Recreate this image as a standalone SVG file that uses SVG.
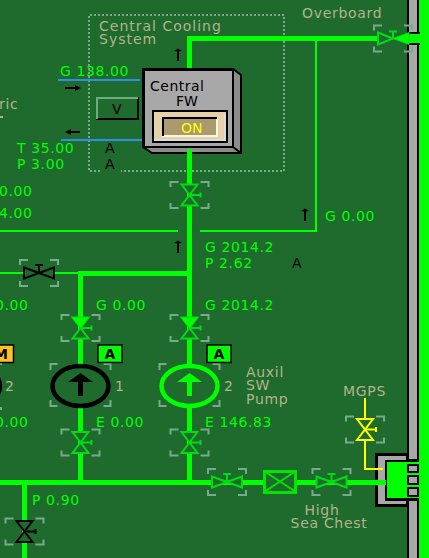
<svg xmlns="http://www.w3.org/2000/svg" width="429" height="558" viewBox="0 0 429 558">
<style>
text{font-family:"DejaVu Sans",sans-serif;font-size:14px}
.g{fill:#00ff00;letter-spacing:.6px}
.t{fill:#b4b48c;letter-spacing:.7px}
.k{fill:#000}
.p{stroke:#00ff00;fill:none}
.br{fill:none;stroke:#78aa8c;stroke-width:2}
.v{fill:#1e6b2d;stroke-width:2;stroke:#00dc14}
.s{fill:none;stroke-width:2;stroke:#00dc14}
.bk{fill:#1e6b2d;stroke-width:2;stroke:#000}
.bs{fill:none;stroke-width:2;stroke:#000}
.y{fill:#1e6b2d;stroke-width:2;stroke:#ffff00}
.ys{fill:none;stroke-width:2;stroke:#ffff00}
</style>
<defs>
<path id="brs" class="br" d="M-19,-8V-13H-11M11,-13H19V-8M-19,8V13H-11M11,13H19V8"/>
<path id="brp" class="br" d="M-30,-15V-21H-23M23,-21H30V-15M-30,15V21H-23M23,21H30V15"/>
<g id="vv"><use href="#brs"/><path class="v" d="M-8,-10.500H8L-8,10.500H8Z"/><path class="s" d="M0,0H11M11,-2.500V2.500"/></g>
<g id="vvf"><use href="#brs"/><path class="v" d="M-8,-10.500H8L-8,10.500H8Z"/><path d="M-8,-10.500H8L0,0Z" fill="#00ff00"/><path class="s" d="M0,0H11M11,-2.500V2.500"/></g>
<g id="vh"><use href="#brs"/><path class="v" d="M-15,-5.500V5.500L15,-5.500V5.500Z"/><path class="s" d="M0,0V-8M-4,-8H4"/></g>
<g id="badge"><rect x="-12" y="-9" width="24" height="17.500" fill="#00ff00" stroke="#000" stroke-width="1.500"/><text y="5" text-anchor="middle" class="k" font-weight="bold">A</text></g>
<path id="up" d="M-1,-6H1V6H-1ZM-4,-4L0,-6.500L4,-4L1,-3.500H-1Z" fill="#000"/>
</defs>
<rect width="429" height="558" fill="#1e6b2d"/>
<g id="hull">
<rect x="408" y="-3" width="10" height="463" fill="#a8a8a8" stroke="#000" stroke-width="2"/>
<rect x="408" y="500" width="10" height="62" fill="#a8a8a8" stroke="#000" stroke-width="2"/>
<rect x="419" y="0" width="10" height="558" fill="#00ff00"/>
<rect x="407" y="32" width="13" height="13" fill="#000"/>
<rect x="407" y="34" width="22" height="9" fill="#00ff00"/>
<rect x="376.500" y="454.500" width="31" height="51" fill="#a8a8a8" stroke="#000" stroke-width="3"/>
<rect x="385" y="460" width="34" height="41" fill="#000"/>
<rect x="387" y="462" width="42" height="36" fill="#00ff00"/>
<rect x="408" y="465" width="10" height="7" fill="#a8a8a8" stroke="#000" stroke-width="2"/>
<rect x="408" y="476" width="10" height="8" fill="#a8a8a8" stroke="#000" stroke-width="2"/>
<rect x="408" y="488" width="10" height="8" fill="#a8a8a8" stroke="#000" stroke-width="2"/>
</g>
<path id="boundary" d="M100,171H89V15H284V171H121" fill="none" stroke="#78aa8c" stroke-width="2" stroke-dasharray="2 2"/>
<g id="connectors">
<path class="p" stroke-width="5" d="M189.500,72V38.500H380"/>
<path class="p" stroke-width="2" d="M316,38V231H200M178,231H0M0,273H80"/>
<path class="p" stroke-width="5" d="M189.500,150V482.500M80.500,482.500V273.500H189.500M0,482.500H386M24.500,482.500V558"/>
<path d="M58,80H140M61,140H144" stroke="#2f8fe6" stroke-width="2" fill="none"/>
<path d="M365,398V469H383" stroke="#ffff00" stroke-width="2" fill="none"/>
</g>
<g id="central-cooling-label"><text class="t" x="99" y="31" style="letter-spacing:1px">Central Cooling</text><text class="t" x="99" y="44" style="letter-spacing:1px">System</text></g>
<g id="central-fw">
<path d="M143,69H233L241,75V153H152L143,147Z" fill="#8c8c8c" stroke="#000" stroke-width="2"/>
<rect x="144" y="70" width="89" height="77" fill="#a8a8a8" stroke="#000" stroke-width="2"/>
<path d="M233,147L241,153" stroke="#000" stroke-width="2"/>
<text class="k" x="150" y="91" style="letter-spacing:.5px">Central</text><text class="k" x="176" y="106">FW</text>
<rect x="153" y="111" width="74" height="31" fill="#e6d2aa" stroke="#000" stroke-width="2"/>
<path d="M155,140H225V113" fill="none" stroke="#dcdcdc" stroke-width="2"/>
<rect x="163" y="118" width="54" height="18" fill="#aa9a6e" stroke="#fff8e0" stroke-width="2"/>
<path d="M163,136V118H217" fill="none" stroke="#000" stroke-width="2"/>
<text x="181" y="133" fill="#ffff00">ON</text>
<rect x="187" y="149" width="5" height="5" fill="#00ff00"/>
</g>
<g id="v-button"><rect x="97" y="98" width="41" height="21" fill="#1e6b2d" stroke="#000" stroke-width="2"/><path d="M97,119V98H138" fill="none" stroke="#6eaa82" stroke-width="2"/><text class="k" x="112" y="114">V</text></g>
<g id="labels">
<text class="g" x="60" y="76">G 138.00</text>
<text class="g" x="17" y="153">T 35.00</text>
<text class="g" x="17" y="169">P 3.00</text>
<text class="k" x="105" y="153">A</text><text class="k" x="105" y="169">A</text>
<text class="t" x="-1" y="109">ric</text>
<path d="M0,117H3" stroke="#b4b48c" stroke-width="2"/>
<text class="g" x="-1" y="196">0.00</text>
<text class="g" x="-1" y="218">4.00</text>
<text class="t" x="302" y="18">Overboard</text>
<text class="g" x="325" y="221">G 0.00</text>
<text class="g" x="205" y="252">G 2014.2</text>
<text class="g" x="205" y="268">P 2.62</text>
<text class="k" x="292" y="268">A</text>
<text class="g" x="96" y="310">G 0.00</text>
<text class="g" x="205" y="310">G 2014.2</text>
<text class="g" x="-5" y="310">0.00</text>
<text class="g" x="-5" y="427">0.00</text>
<text class="g" x="96" y="427">E 0.00</text>
<text class="g" x="205" y="427">E 146.83</text>
<text class="g" x="32" y="505">P 0.90</text>
<text class="t" x="5" y="391">2</text><text class="t" x="115" y="391">1</text><text class="t" x="224" y="391">2</text>
<text class="t" x="246" y="377">Auxil</text><text class="t" x="246" y="390">SW</text><text class="t" x="246" y="404">Pump</text>
<text class="t" x="343" y="396">MGPS</text>
<text class="t" x="322" y="515" text-anchor="middle">High</text><text class="t" x="329" y="528" text-anchor="middle">Sea Chest</text>
</g>
<g id="arrows">
<use href="#up" transform="translate(178,55)"/><use href="#up" transform="translate(178,247)"/><use href="#up" transform="translate(305,215)"/>
<path d="M65,87H76V89H65ZM75,85L81,88L75,91Z" fill="#000"/><path d="M80,131H70V133H80ZM71,129L65,132L71,135Z" fill="#000"/>
</g>
<g id="valve-overboard" transform="translate(393,38.500)"><use href="#brs"/><path class="v" d="M-15,-6V6L0,0Z"/><path d="M0,0L16,-6V6Z" fill="#00ff00" stroke="#00dc14" stroke-width="1"/><path class="s" d="M0,0V-7M-4,-7H4"/></g>
<g id="valve-black-h" transform="translate(39,273)"><use href="#brs"/><path class="bk" d="M-15,-5.500V5.500L15,-5.500V5.500Z"/><path class="bs" d="M0,0V-8M-4,-8H4"/></g>
<use id="valve-a" href="#vvf" transform="translate(80.500,328)"/>
<use id="valve-b" href="#vvf" transform="translate(189.500,328)"/>
<use id="valve-c" href="#vv" transform="translate(189.500,195)"/>
<use id="valve-d" href="#vv" transform="translate(80.500,442.500)"/>
<use id="valve-e" href="#vv" transform="translate(189.500,442.500)"/>
<g id="valve-black-v" transform="translate(24.500,531.500)"><use href="#brs"/><path class="bk" d="M-8,-10.500H8L-8,10.500H8Z"/><path class="bs" d="M0,0H11M11,-2.500V2.500"/></g>
<g id="valve-mgps" transform="translate(365,429.500)"><use href="#brs"/><path class="y" d="M-8,-10.500H8L-8,10.500H8Z"/><path class="ys" d="M0,0H11M11,-2.500V2.500"/></g>
<use id="valve-f" href="#vh" transform="translate(227,482)"/>
<use id="valve-g" href="#vh" transform="translate(331.500,482)"/>
<g id="strainer"><rect x="264.500" y="471.500" width="31" height="21" fill="#1e6b2d" stroke="#00e600" stroke-width="3"/><path d="M264,471L296,492M296,471L264,492" stroke="#00e600" stroke-width="2"/></g>
<g id="pump-1"><use href="#brp" transform="translate(80.500,385)"/><ellipse cx="80.500" cy="386" rx="28" ry="20" fill="#1e6b2d" stroke="#000" stroke-width="4.500"/><path d="M68,382L80.500,373L93,382Z" fill="#000"/><rect x="78" y="380" width="5" height="16"/></g>
<g id="pump-2"><use href="#brp" transform="translate(189.500,385)"/><ellipse cx="189.500" cy="386" rx="28" ry="20" fill="#1e6b2d" stroke="#00ff00" stroke-width="4.500"/><path d="M177,382L189.500,373L202,382Z" fill="#00ff00"/><rect x="187" y="380" width="5" height="16" fill="#00ff00"/></g>
<g id="pump-left"><ellipse cx="-28" cy="386" rx="28" ry="20" fill="none" stroke="#000" stroke-width="4.500"/><path d="M1,365V363H-3M1,407V409H-3" class="br"/></g>
<use id="badge-1" href="#badge" transform="translate(110,354)"/>
<use id="badge-2" href="#badge" transform="translate(219,354)"/>
<g id="badge-m"><rect x="-10" y="345" width="23.500" height="17.500" fill="#ffc020" stroke="#000" stroke-width="1.500"/><text x="-6" y="359" class="k" font-weight="bold">M</text></g>
</svg>
